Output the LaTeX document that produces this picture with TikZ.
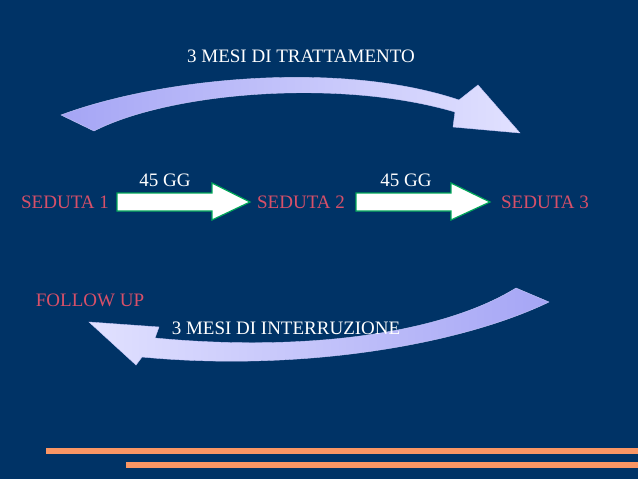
\documentclass[tikz,border=0pt]{standalone}
\usepackage{fontspec}
\setmainfont{Liberation Serif}
\begin{document}
\begin{tikzpicture}[x=1pt,y=-1pt,
  lbl/.style={text=white,font=\fontsize{19}{22}\selectfont,inner sep=0},
  sed/.style={text=seducol,font=\fontsize{19}{22}\selectfont,inner sep=0},
  straw/.style={fill=white,draw=teal!70!green,line width=1.2pt},
  curv/.style={left color=lav1,right color=lav2,draw=lav1!60!white,line width=0.4pt},
  bar/.style={fill=orng}]
\definecolor{bg}{RGB}{0,51,102}
\definecolor{seducol}{RGB}{215,80,105}
\definecolor{lav1}{RGB}{165,165,245}
\definecolor{lav2}{RGB}{225,225,255}
\definecolor{orng}{RGB}{250,150,100}
\fill[bg] (0,0) rectangle (638,479);
\useasboundingbox (0,0) rectangle (638,479);
% top curved arrow
\path[curv] (61,115) .. controls (160,78) and (340,60) .. (459,100)
  -- (478,85) -- (520,133) -- (453,127) -- (455,112)
  .. controls (340,78) and (170,92) .. (94,131) -- cycle;
% bottom curved arrow
\path[left color=lav2,right color=lav1,draw=lav1!60!white,line width=0.4pt]
  (516,288) .. controls (440,335) and (300,352) .. (155,338)
  -- (159,327) -- (89,322) -- (136,365) -- (142,357)
  .. controls (300,372) and (460,345) .. (549,302) -- cycle;
% texts
\node[lbl] (t1) at (301,56) {3 MESI DI TRATTAMENTO};
\node[lbl] (t2) at (286,328) {3 MESI DI INTERRUZIONE};
\node[sed] (s1) at (65,202) {SEDUTA 1};
\node[sed] (s2) at (301,202) {SEDUTA 2};
\node[sed] (s3) at (545,202) {SEDUTA 3};
\node[sed] (fu) at (90,300) {FOLLOW UP};
\node[lbl] (g1) at (165,180) {45 GG};
\node[lbl] (g2) at (406,180) {45 GG};
% straight arrows
\path[straw] (117,193) -- (212,193) -- (212,183) -- (250,202) -- (212,220) -- (212,211) -- (117,211) -- cycle;
\path[straw] (356,193) -- (451,193) -- (451,183) -- (490,202) -- (451,220) -- (451,211) -- (356,211) -- cycle;
% bars
\fill[bar] (46,448) rectangle (638,454);
\fill[bar] (126,462) rectangle (638,468);
\end{tikzpicture}
\end{document}
